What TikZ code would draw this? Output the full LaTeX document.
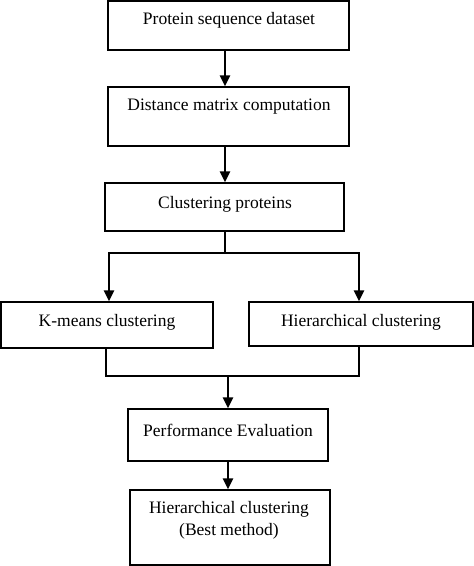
\documentclass[tikz,border=0pt]{standalone}
\usepackage{fontspec}
\setmainfont{Liberation Serif}
\usetikzlibrary{arrows.meta}
\begin{document}
\begin{tikzpicture}[x=1pt,y=-1pt,
  box/.style={draw, line width=1.5pt, rectangle, inner sep=0pt},
  lbl/.style={font=\fontsize{17.5}{22}\selectfont, inner sep=0pt, align=center},
  arr/.style={line width=1.7pt, -{Triangle[length=11pt,width=10.5pt]}},
  ln/.style={line width=1.6pt}]
\useasboundingbox (0,0) rectangle (474,566);
% boxes
\node[box, minimum width=241pt, minimum height=49pt] (b1) at (228.5,25.5) {};
\node[box, minimum width=241pt, minimum height=59pt] (b2) at (228.5,116.5) {};
\node[box, minimum width=239pt, minimum height=48pt] (b3) at (224.5,207) {};
\node[box, minimum width=212pt, minimum height=46pt] (k) at (107,325) {};
\node[box, minimum width=224pt, minimum height=44pt] (h) at (361,324) {};
\node[box, minimum width=200pt, minimum height=52pt] (p) at (228,435) {};
\node[box, minimum width=200pt, minimum height=75pt] (f) at (230,527.5) {};
% labels
\node[lbl] (t1) at (229,20) {Protein sequence dataset};
\node[lbl] (t2) at (229,107) {Distance matrix computation};
\node[lbl] (t3) at (225,204) {Clustering proteins};
\node[lbl] (tk) at (107,322) {K-means clustering};
\node[lbl] (th) at (361,322) {Hierarchical clustering};
\node[lbl] (tp) at (228,430) {Performance Evaluation};
\node[lbl] (tf) at (229,520) {Hierarchical clustering\\(Best method)};
% connector coordinates
\coordinate (ax) at (225,0);
\coordinate (sp) at (225,253);
\coordinate (kx) at (109,0);
\coordinate (hx) at (359,0);
\coordinate (kl) at (106,0);
\coordinate (mg) at (228,376);
% connectors
\draw[arr] (b1.south -| ax) -- (b2.north -| ax);
\draw[arr] (b2.south -| ax) -- (b3.north -| ax);
\draw[ln] (b3.south -| sp) -- (sp);
\draw[arr] (sp) -| (k.north -| kx);
\draw[arr] (sp) -| (h.north -| hx);
\draw[ln] (k.south -| kl) |- (mg);
\draw[ln] (h.south -| hx) |- (mg);
\draw[arr] (mg) -- (p.north -| mg);
\draw[arr] (p.south -| mg) -- (f.north -| mg);
\end{tikzpicture}
\end{document}
